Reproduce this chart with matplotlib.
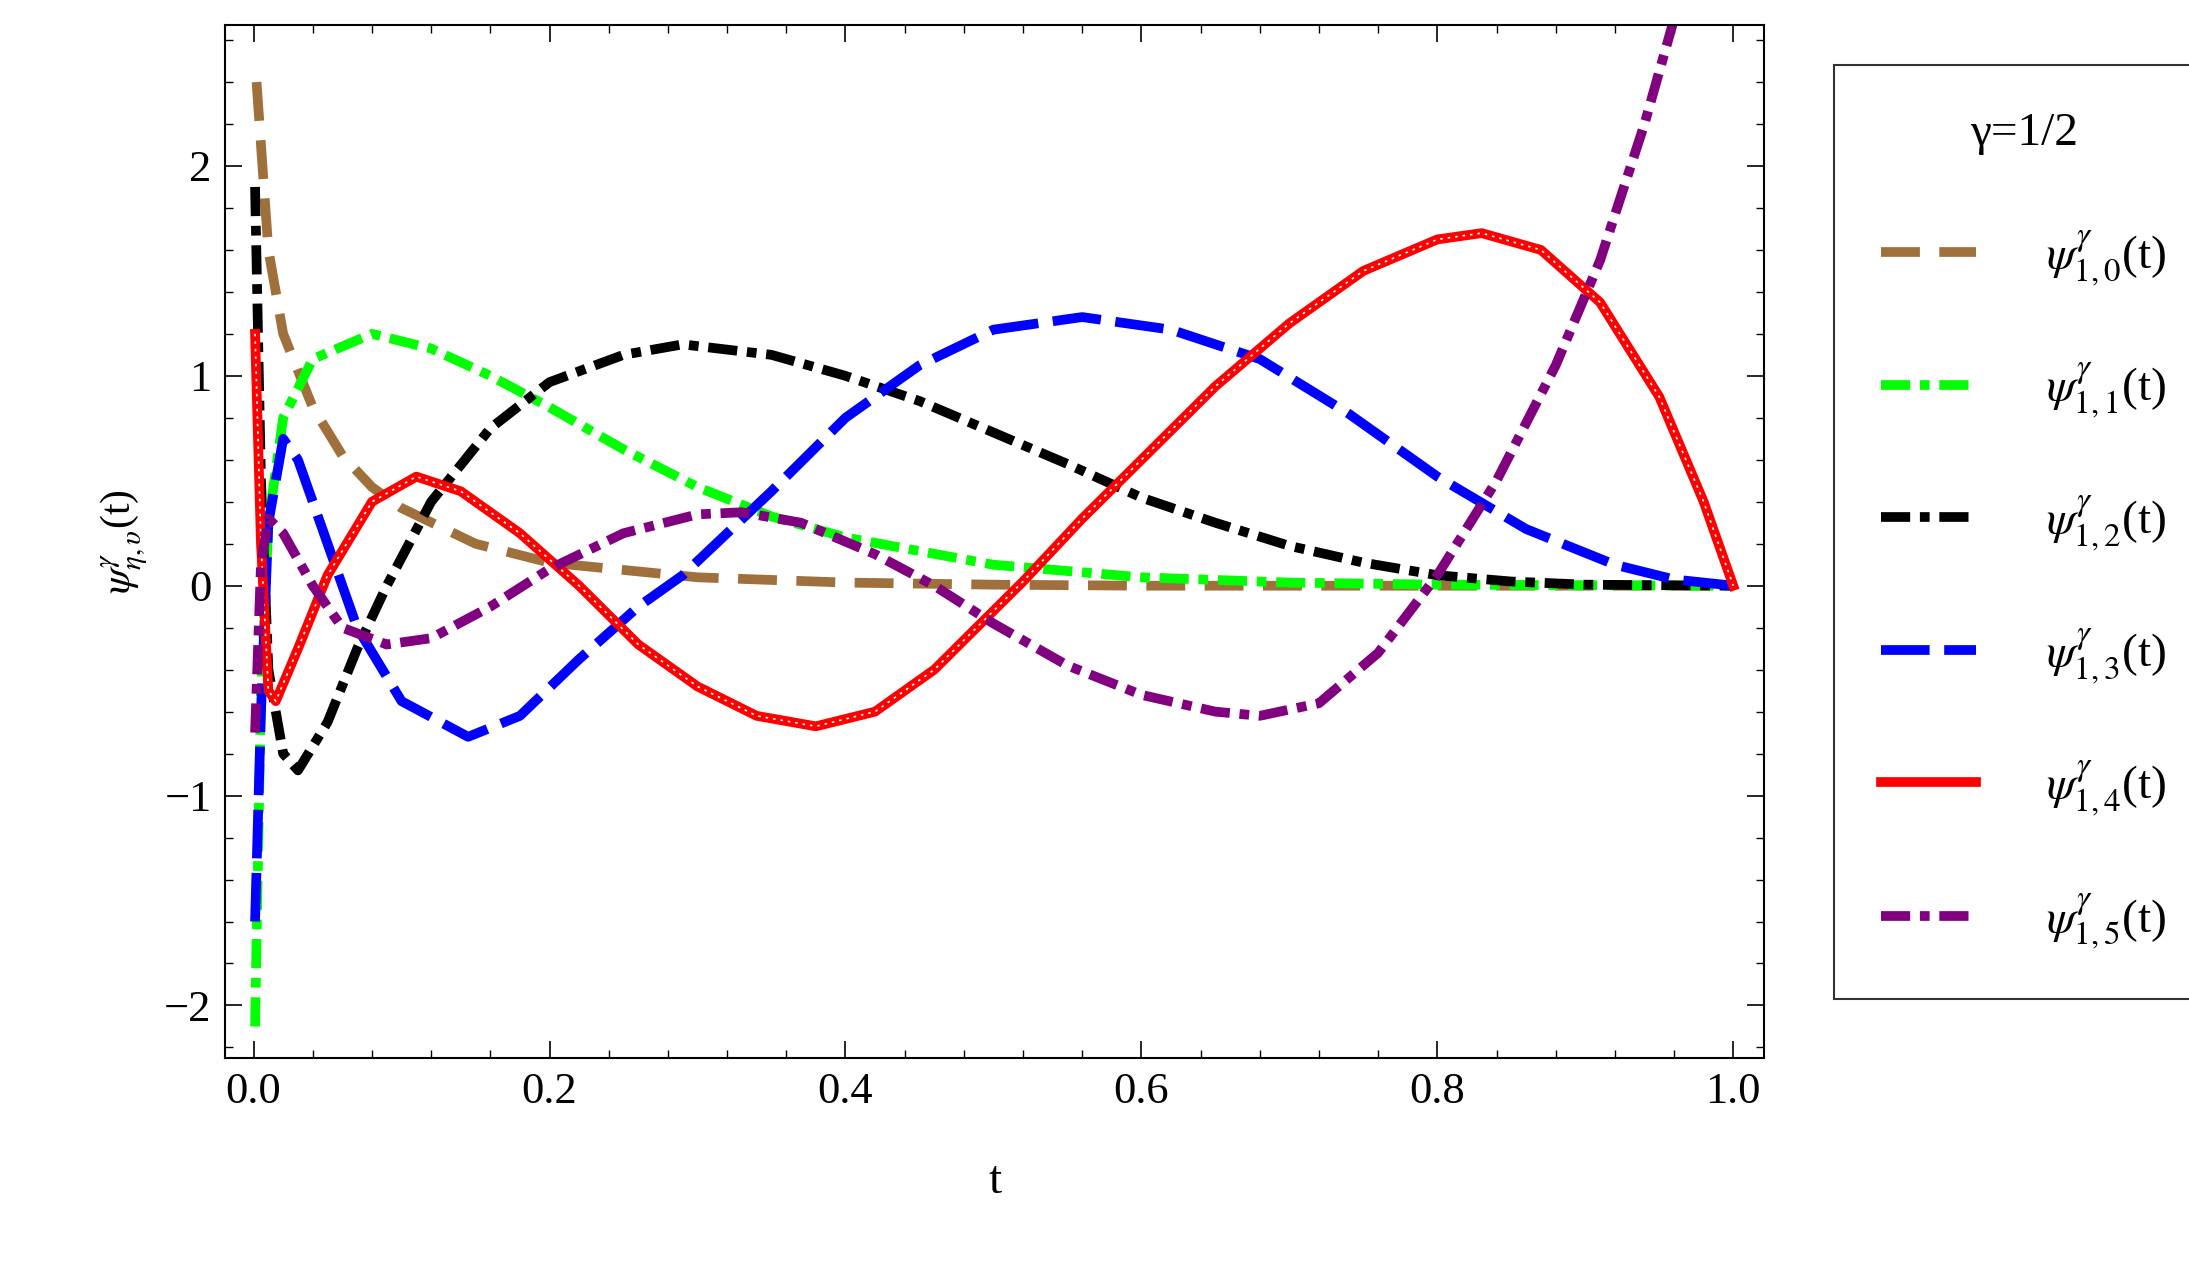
import matplotlib
matplotlib.use("Agg")
import matplotlib.pyplot as plt
from matplotlib.ticker import MultipleLocator

plt.rcParams['font.family'] = ['Liberation Serif', 'DejaVu Serif']
plt.rcParams['mathtext.fontset'] = 'stix'

t0 = [0.002,0.01,0.02,0.04,0.06,0.08,0.1,0.15,0.2,0.3,0.4,0.5,0.6,1.0]
y0 = [2.4,1.6,1.2,0.85,0.62,0.47,0.37,0.2,0.11,0.04,0.015,0.005,0.0,0.0]
t1 = [0.001,0.005,0.01,0.02,0.04,0.08,0.12,0.16,0.2,0.25,0.3,0.35,0.4,0.5,0.6,0.7,0.8,1.0]
y1 = [-2.1,-0.5,0.3,0.8,1.08,1.2,1.13,1.0,0.85,0.65,0.47,0.33,0.23,0.1,0.04,0.015,0.005,0.0]
t2 = [0.001,0.005,0.01,0.02,0.03,0.05,0.07,0.09,0.12,0.16,0.2,0.25,0.29,0.35,0.4,0.45,0.5,0.55,0.6,0.65,0.7,0.75,0.8,0.85,0.9,1.0]
y2 = [1.9,0.5,-0.4,-0.8,-0.88,-0.65,-0.3,0.0,0.4,0.75,0.97,1.1,1.15,1.1,1.0,0.88,0.73,0.58,0.42,0.3,0.19,0.11,0.05,0.02,0.005,0.0]
t3 = [0.001,0.005,0.01,0.02,0.03,0.05,0.07,0.1,0.145,0.18,0.22,0.26,0.29,0.35,0.4,0.45,0.5,0.56,0.62,0.68,0.74,0.8,0.86,0.92,0.96,1.0]
y3 = [-1.6,-0.6,0.3,0.7,0.6,0.2,-0.2,-0.55,-0.72,-0.62,-0.35,-0.1,0.05,0.45,0.8,1.05,1.22,1.28,1.22,1.08,0.82,0.52,0.27,0.1,0.03,0.0]
t4 = [0.001,0.005,0.01,0.015,0.03,0.05,0.08,0.11,0.14,0.18,0.22,0.26,0.3,0.34,0.38,0.42,0.46,0.5,0.52,0.56,0.6,0.65,0.7,0.75,0.8,0.83,0.87,0.91,0.95,0.98,1.0]
y4 = [1.2,0.2,-0.5,-0.55,-0.3,0.05,0.4,0.52,0.45,0.25,0.0,-0.28,-0.48,-0.62,-0.67,-0.6,-0.4,-0.12,0.02,0.32,0.6,0.95,1.25,1.5,1.65,1.68,1.6,1.35,0.9,0.4,0.0]
t5 = [0.001,0.005,0.01,0.02,0.04,0.06,0.09,0.12,0.16,0.2,0.25,0.3,0.33,0.37,0.42,0.46,0.5,0.55,0.6,0.65,0.68,0.72,0.76,0.8,0.84,0.88,0.91,0.94,0.96]
y5 = [-0.7,0.1,0.32,0.25,0.0,-0.2,-0.28,-0.25,-0.1,0.08,0.25,0.34,0.35,0.3,0.15,0.0,-0.18,-0.38,-0.52,-0.6,-0.62,-0.56,-0.32,0.05,0.5,1.05,1.55,2.2,2.7]

labels = [r'$\psi^{\gamma}_{1,%d}$(t)' % i for i in range(6)]

fig = plt.figure(figsize=(21.89, 12.67), dpi=100)
ax = fig.add_axes([0.103, 0.165, 0.703, 0.815])
lw = 7
kw = dict(solid_joinstyle='round', dash_joinstyle='round')
h = []
h += ax.plot(t0, y0, color='#A0703C', lw=lw, ls=(0, (4, 2)), **kw)
h += ax.plot(t1, y1, color='#00FF00', lw=lw, ls=(0, (3, 1, 1, 1)), **kw)
h += ax.plot(t2, y2, color='black', lw=lw, ls=(0, (3, 1, 1, 1)), **kw)
h += ax.plot(t3, y3, color='#0000FF', lw=lw, ls=(0, (5, 1.5)), **kw)
h += ax.plot(t4, y4, color='#FF0000', lw=lw, ls='-', **kw)
ax.plot(t4, y4, color='white', lw=1.2, ls=(0, (1.5, 3)))
h += ax.plot(t5, y5, color='#800080', lw=lw, ls=(0, (3, 1, 1, 1)), **kw)

ax.set_xlim(-0.019, 1.021)
ax.set_ylim(-2.25, 2.67)
ax.xaxis.set_minor_locator(MultipleLocator(0.04))
ax.yaxis.set_minor_locator(MultipleLocator(0.2))
ax.set_xticks([0, 0.2, 0.4, 0.6, 0.8, 1.0], ['0.0', '0.2', '0.4', '0.6', '0.8', '1.0'])
ax.set_yticks([-2, -1, 0, 1, 2], ['−2', '−1', '0', '1', '2'])
ax.tick_params(which='both', direction='in', top=True, right=True, labelsize=32)
ax.tick_params(which='major', length=12, width=1.2, pad=10)
ax.tick_params(which='minor', length=6, width=1)
for s in ax.spines.values():
    s.set_linewidth(1.5)
ax.set_xlabel('t', fontsize=34, labelpad=35)
ax.set_ylabel(r'$\psi^{\gamma}_{\eta,\upsilon}$(t)', fontsize=30, labelpad=10)

leg = fig.legend(h, labels, loc='upper left', bbox_to_anchor=(0.827, 0.967),
                 title='γ=1/2', title_fontsize=34, fontsize=34, frameon=True,
                 fancybox=False, edgecolor='black', handlelength=2.0,
                 labelspacing=1.55, borderpad=1.0, handletextpad=1.5)
leg.get_frame().set_linewidth(1.5)
fig.savefig('out.png', dpi=100)
